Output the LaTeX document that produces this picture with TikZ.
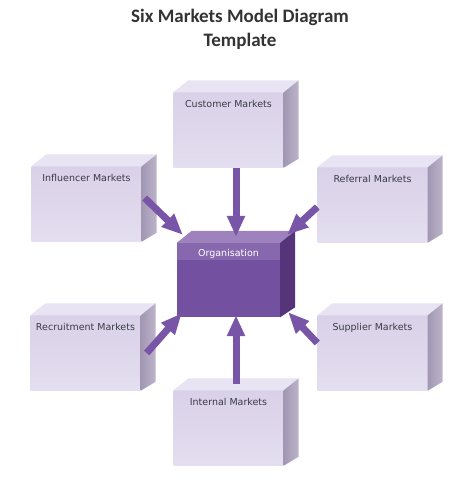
\documentclass[tikz,border=0pt]{standalone}
\usepackage{fontspec}
\setmainfont{DejaVu Sans}
\newfontfamily\titlefont{Carlito}
\usetikzlibrary{positioning,arrows.meta}

\definecolor{mkfronttop}{HTML}{D9D1E8}
\definecolor{mkfrontbot}{HTML}{E4DEF0}
\definecolor{mktopface}{HTML}{E9E4F3}
\definecolor{mksideL}{HTML}{A197B3}
\definecolor{mksideR}{HTML}{BDB4CB}
\definecolor{orgfront}{HTML}{7451A0}
\definecolor{orgband}{HTML}{8767AE}
\definecolor{orgtopface}{HTML}{9D82BE}
\definecolor{orgside}{HTML}{553479}
\definecolor{flowcol}{HTML}{7955A7}
\definecolor{labelgray}{HTML}{3A3A48}

\tikzset{
  market/.style={minimum width=110pt, inner sep=0pt, text height=15pt,
    text depth=60pt, top color=mkfronttop, bottom color=mkfrontbot,
    text=labelgray},
  core/.style={minimum width=103pt, inner sep=0pt, text height=13pt,
    text depth=61pt, fill=orgfront, text=white,
    path picture={\fill[orgband] (path picture bounding box.north west)
      rectangle ([yshift=-17pt]path picture bounding box.north east);}},
  flow/.style={draw=flowcol, line width=7pt,
    -{Triangle[length=21pt,width=17pt]}}
}

\begin{document}
\begin{tikzpicture}[x=1pt,y=-1pt,on grid,font=\fontsize{9.5}{11}\selectfont]
    \useasboundingbox (0,0) rectangle (474,499);
    \fill[white] (0,0) rectangle (474,499);

    \node[font=\titlefont\bfseries\fontsize{19}{24}\selectfont,
      align=center, text=black!80] (title) at (240,29)
      {Six Markets Model Diagram\\Template};

    \node[core]   (org)  at (228.5,280)              {Organisation};
    \node[market] (cust) [above=150pt of org]         {Customer Markets};
    \node[market] (intl) [below=148pt of org]         {Internal Markets};
    \node[market] (infl) [above left=76pt and 142pt of org]  {Influencer Markets};
    \node[market] (refe) [above right=75pt and 144pt of org] {Referral Markets};
    \node[market] (recr) [below left=73pt and 143pt of org]  {Recruitment Markets};
    \node[market] (supp) [below right=73pt and 144pt of org] {Supplier Markets};

    % top and side faces
    \foreach \n in {cust,infl,refe,recr,supp,intl} {
      \fill[mktopface] (\n.north west) -- ++(15,-12)
        -- ([shift={(15,-12)}]\n.north east) -- (\n.north east) -- cycle;
      \shade[left color=mksideL, right color=mksideR] (\n.north east)
        -- ++(15,-12) -- ([shift={(15,-9)}]\n.south east)
        -- (\n.south east) -- cycle;
    }
    \fill[orgtopface] (org.north west) -- ++(15,-12)
      -- ([shift={(15,-12)}]org.north east) -- (org.north east) -- cycle;
    \fill[orgside] (org.north east) -- ++(15,-12)
      -- ([shift={(15,-10)}]org.south east) -- (org.south east) -- cycle;

    \coordinate (ot) at ([shift={(7.5,-6)}]org.north);
    \coordinate (ob) at ([shift={(7.5,-2)}]org.south);

    \draw[flow] (cust.south -| ot) -- (ot);
    \draw[flow] ([shift={(7.5,-6)}]intl.north) -- (ob);
    \draw[flow] ([shift={(3,-6)}]infl.east) -- ([shift={(6,-8)}]org.north west);
    \draw[flow] ([shift={(0,2)}]refe.west) -- ([shift={(7,-8)}]org.north east);
    \draw[flow] ([shift={(6,0)}]recr.east) -- ([shift={(5,-4)}]org.south west);
    \draw[flow] ([shift={(0,-10)}]supp.west) -- ([shift={(8,-5)}]org.south east);

\end{tikzpicture}
\end{document}
